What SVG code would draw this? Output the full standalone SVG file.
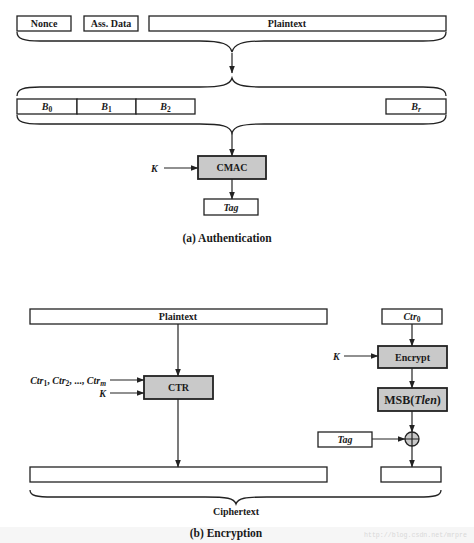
<svg xmlns="http://www.w3.org/2000/svg" width="474" height="543" viewBox="0 0 474 543">
<defs>
<marker id="ah" markerWidth="8" markerHeight="6" refX="7.5" refY="3" orient="auto" markerUnits="userSpaceOnUse">
<path d="M0,0 L8,3 L0,6 Z" fill="#222"/>
</marker>
<style>
.box{fill:#fff;stroke:#222;stroke-width:1.3}
.gbox{fill:#c9c9c9;stroke:#222;stroke-width:1.8}
.ln{fill:none;stroke:#222;stroke-width:1.2}
.br{fill:none;stroke:#222;stroke-width:1.3}
.t{font-family:"Liberation Serif","Times New Roman",serif;font-weight:bold;font-size:10px;fill:#1a1a1a}
.i{font-style:italic}
.c{text-anchor:middle}
.cap{font-size:11.5px}
.big{font-size:12px}
.wm{font-family:"Liberation Mono",monospace;font-size:6.6px;fill:#d8d8d8}
</style>
</defs>
<rect width="474" height="543" fill="#fff"/>
<rect x="0" y="527" width="474" height="16" fill="#f6f6f6"/>

<!-- (a) Authentication -->
<g id="nonce"><rect class="box" x="17" y="16" width="54" height="15"/><text class="t c" x="44" y="27">Nonce</text></g>
<g id="assdata"><rect class="box" x="84" y="16" width="54" height="15"/><text class="t c" x="111" y="27">Ass. Data</text></g>
<g id="plaintext-a"><rect class="box" x="149" y="16" width="297" height="15"/><text class="t c" x="287" y="27">Plaintext</text></g>

<g id="brace1"><path class="br" d="M17,32 C17,39 24,41 40,41 L200,41 C222,41 230,44 232,52 C234,44 242,41 264,41 L423,41 C439,41 446,39 446,32"/></g>
<g id="brace2"><path class="br" d="M17,96 C17,89 24,87 40,87 L200,87 C222,87 230,85 232,78 C234,85 242,87 264,87 L423,87 C439,87 446,89 446,96"/></g>

<g id="b0"><rect class="box" x="17" y="99" width="60" height="15"/><text class="t c" x="47" y="110"><tspan class="i">B</tspan><tspan dy="2" font-size="7.5">0</tspan></text></g>
<g id="b1"><rect class="box" x="77" y="99" width="59" height="15"/><text class="t c" x="106.5" y="110"><tspan class="i">B</tspan><tspan dy="2" font-size="7.5">1</tspan></text></g>
<g id="b2"><rect class="box" x="136" y="99" width="59" height="15"/><text class="t c" x="165.5" y="110"><tspan class="i">B</tspan><tspan dy="2" font-size="7.5">2</tspan></text></g>
<g id="br"><rect class="box" x="386" y="99" width="60" height="15"/><text class="t c" x="416" y="110"><tspan class="i">B</tspan><tspan dy="2" font-size="7.5" class="i">r</tspan></text></g>

<g id="brace3"><path class="br" d="M17,115 C17,122 24,124 40,124 L200,124 C222,124 230,126 232,133 C234,126 242,124 264,124 L423,124 C439,124 446,122 446,115"/></g>

<g id="cmac"><rect class="gbox" x="198" y="156" width="68" height="23"/><text class="t c" x="232" y="171">CMAC</text></g>
<g id="k-a"><text class="t i" x="151" y="172">K</text></g>
<g id="tag-a"><rect class="box" x="204" y="199" width="54" height="16"/><text class="t c i" x="231" y="210.5">Tag</text></g>
<g id="cap-a"><text class="t c cap" x="227" y="242">(a) Authentication</text></g>

<!-- (b) Encryption -->
<g id="plaintext-b"><rect class="box" x="30" y="309" width="297" height="15"/><text class="t c" x="178" y="320">Plaintext</text></g>
<g id="ctr0"><rect class="box" x="382" y="309" width="60" height="15"/><text class="t c" x="412" y="320"><tspan class="i">Ctr</tspan><tspan dy="2" font-size="7.5">0</tspan></text></g>
<g id="ctr"><rect class="gbox" x="144" y="376" width="69" height="23"/><text class="t c" x="178.5" y="391">CTR</text></g>
<g id="ctrs"><text class="t" x="106" y="384" text-anchor="end"><tspan class="i">Ctr</tspan><tspan dy="2" font-size="7.5">1</tspan><tspan dy="-2">, </tspan><tspan class="i">Ctr</tspan><tspan dy="2" font-size="7.5">2</tspan><tspan dy="-2">, ..., </tspan><tspan class="i">Ctr</tspan><tspan dy="2" font-size="7.5" class="i">m</tspan></text></g>
<g id="k-b"><text class="t i" x="106" y="397" text-anchor="end">K</text></g>
<g id="encrypt"><rect class="gbox" x="378" y="346" width="69" height="22"/><text class="t c" x="412.5" y="360.5">Encrypt</text></g>
<g id="k-c"><text class="t i" x="333" y="360">K</text></g>
<g id="msb"><rect class="gbox" x="378" y="388" width="69" height="23"/><text class="t c big" x="412.5" y="404">MSB(<tspan class="i">Tlen</tspan>)</text></g>
<g id="xor"><circle cx="412" cy="439" r="7" fill="#c9c9c9" stroke="#222" stroke-width="1.3"/><path class="ln" d="M405,439 H419 M412,432 V446"/></g>
<g id="tag-b"><rect class="box" x="318" y="432" width="54" height="15"/><text class="t c i" x="345" y="443">Tag</text></g>
<g id="cipher1"><rect class="box" x="30" y="467" width="297" height="15"/></g>
<g id="cipher2"><rect class="box" x="381" y="467" width="60" height="15"/></g>
<g id="brace4"><path class="br" d="M30,490 C30,496 37,497 53,497 L205,497 C227,497 234,498 236,504 C238,498 245,497 267,497 L418,497 C434,497 441,496 441,490"/></g>
<g id="ciphertext-label"><text class="t c" x="236" y="515">Ciphertext</text></g>
<g id="cap-b"><text class="t c cap" x="226" y="537">(b) Encryption</text></g>
<g id="watermark"><text class="wm" x="364" y="537">http://blog.csdn.net/mrpre</text></g>

<g id="connectors">
<path class="ln" d="M232,53 V73" marker-end="url(#ah)"/>
<path class="ln" d="M232,133 V156" marker-end="url(#ah)"/>
<path class="ln" d="M164,168 H198" marker-end="url(#ah)"/>
<path class="ln" d="M232,179 V199" marker-end="url(#ah)"/>
<path class="ln" d="M178,324 V376" marker-end="url(#ah)"/>
<path class="ln" d="M110,380 H144" marker-end="url(#ah)"/>
<path class="ln" d="M110,393 H144" marker-end="url(#ah)"/>
<path class="ln" d="M178,399 V467" marker-end="url(#ah)"/>
<path class="ln" d="M412,324 V346" marker-end="url(#ah)"/>
<path class="ln" d="M344,356 H378" marker-end="url(#ah)"/>
<path class="ln" d="M412,368 V388" marker-end="url(#ah)"/>
<path class="ln" d="M412,411 V432" marker-end="url(#ah)"/>
<path class="ln" d="M372,439 H405" marker-end="url(#ah)"/>
<path class="ln" d="M412,446 V467" marker-end="url(#ah)"/>
</g>
</svg>
